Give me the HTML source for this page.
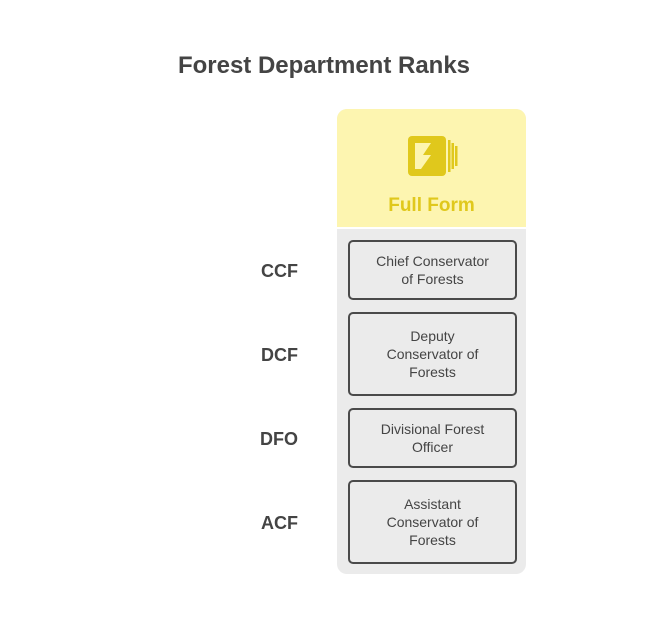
<!DOCTYPE html>
<html><head><meta charset="utf-8"><style>
body{margin:0;width:648px;height:636px;background:#fff;position:relative;font-family:"Liberation Sans",sans-serif;overflow:hidden}
.t{position:absolute;left:0;width:648px;top:52px;text-align:center;font-size:24px;font-weight:bold;color:#444}
.col{position:absolute;left:337px;top:109px;width:189px;height:465px;background:#ebebeb;border-radius:10px;overflow:hidden}
.hd{position:absolute;left:0;top:0;width:189px;height:118px;background:#fdf5b0;border-bottom:2px solid #fff}
.ff{position:absolute;left:0;width:189px;top:86px;text-align:center;font-size:19px;font-weight:bold;color:#e0c81c}
.b{position:absolute;left:348px;width:165px;border:2px solid #4a4a4a;border-radius:5px;display:flex;align-items:center;justify-content:center;text-align:center;font-size:14px;line-height:18px;color:#444;background:#ebebeb}
.l{position:absolute;width:298px;left:0;text-align:right;font-size:18px;font-weight:bold;color:#444}
</style></head><body>
<div class="t">Forest Department Ranks</div>
<div class="col"><div class="hd">
<svg style="position:absolute;left:70px;top:26px" width="52" height="42">
<rect x="1" y="1" width="38" height="40" rx="4" fill="#e0c81c"/>
<path d="M8 8h16l-8 12h8l-10 14h-6z" fill="#fdf5b0"/>
<rect x="41" y="5" width="2.5" height="32" fill="#e0c81c"/><rect x="44.5" y="8" width="2.5" height="26" fill="#e0c81c"/><rect x="48" y="11" width="2.5" height="20" fill="#e0c81c"/>
</svg>
<div class="ff">Full Form</div></div></div>
<div class="b" style="top:240px;height:56px">Chief Conservator<br>of Forests</div>
<div class="b" style="top:312px;height:80px">Deputy<br>Conservator of<br>Forests</div>
<div class="b" style="top:408px;height:56px">Divisional Forest<br>Officer</div>
<div class="b" style="top:480px;height:80px">Assistant<br>Conservator of<br>Forests</div>
<div class="l" style="top:261px">CCF</div>
<div class="l" style="top:345px">DCF</div>
<div class="l" style="top:429px">DFO</div>
<div class="l" style="top:513px">ACF</div>
</body></html>
